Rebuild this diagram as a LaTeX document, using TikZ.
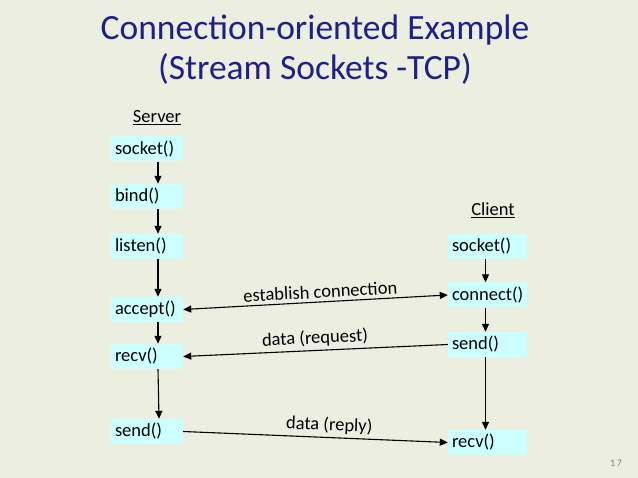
\documentclass[tikz,border=0pt]{standalone}
\usepackage{fontspec}
\setmainfont{Carlito}
\usetikzlibrary{arrows.meta, positioning}
\definecolor{slidebg}{RGB}{236, 238, 224}
\definecolor{callcyan}{RGB}{204, 255, 255}
\definecolor{titleblue}{RGB}{31, 31, 140}
\begin{document}
\begin{tikzpicture}[x=1pt, y=-1pt,
    call/.style={rectangle, fill=callcyan, minimum width=70pt, minimum height=25pt, inner sep=4pt, text width=64pt, align=left, font=\fontsize{18.5}{20}\selectfont},
    ccall/.style={call, minimum width=77pt, text width=71pt},
    side/.style={font=\fontsize{18.5}{20}\selectfont},
    arrow/.style={-{Triangle[length=8pt, width=7pt]}, line width=1.1pt},
    dblarrow/.style={{Triangle[length=8pt, width=7pt]}-{Triangle[length=8pt, width=7pt]}, line width=1.1pt},
    msg/.style={sloped, above, font=\fontsize{18.5}{20}\selectfont}
]
\fill[slidebg] (0,0) rectangle (638,478);
\useasboundingbox (0,0) rectangle (638,478);

% Title
\node[text=titleblue, align=center, font=\fontsize{35.5}{40}\selectfont] (title) at (315,50) {Connection-oriented Example\\(Stream Sockets -TCP)};

% Server side
\node[side] (server) at (157,118) {\underline{Server}};
\node[call] (ssock) at (147,149) {socket()};
\node[call] (sbind) at (147,196.5) {bind()};
\node[call] (slisten) at (147,246.5) {listen()};
\node[call] (saccept) at (147,309.5) {accept()};
\node[call] (srecv) at (147,356.5) {recv()};
\node[call] (ssend) at (147,431.5) {send()};

% Client side
\node[side] (client) at (493,210) {\underline{Client}};
\node[ccall] (csock) at (487.5,246.5) {socket()};
\node[ccall] (cconn) at (487.5,295) {connect()};
\node[ccall] (csend) at (487.5,344.5) {send()};
\node[ccall] (crecv) at (487.5,442.5) {recv()};

% Arrows
\draw[arrow] ([xshift=11pt]ssock.south) -- ([xshift=11pt]sbind.north);
\draw[arrow] ([xshift=11pt]sbind.south) -- ([xshift=11pt]slisten.north);
\draw[arrow] ([xshift=11pt]slisten.south) -- ([xshift=11pt]saccept.north);
\draw[arrow] ([xshift=11pt]saccept.south) -- ([xshift=11pt]srecv.north);
\draw[arrow] ([xshift=11pt]srecv.south) -- ([xshift=12pt]ssend.north);
\draw[arrow] ([xshift=-2pt]csock.south) -- ([xshift=-2pt]cconn.north);
\draw[arrow] ([xshift=-2pt]cconn.south) -- ([xshift=-2pt]csend.north);
\draw[arrow] ([xshift=-2pt]csend.south) -- ([xshift=-2pt]crecv.north);

% Messages
\draw[dblarrow] (saccept.east) -- node[msg, pos=0.52] {establish connection} (cconn.west);
\draw[arrow] (csend.west) -- node[msg, pos=0.5] {data (request)} (srecv.east);
\draw[arrow] (ssend.east) -- node[msg, pos=0.55] {data (reply)} (crecv.west);

% Page number
\node[text=gray, font=\fontsize{10}{11}\selectfont] (page) at (616,463) {1\,7};
\end{tikzpicture}
\end{document}
